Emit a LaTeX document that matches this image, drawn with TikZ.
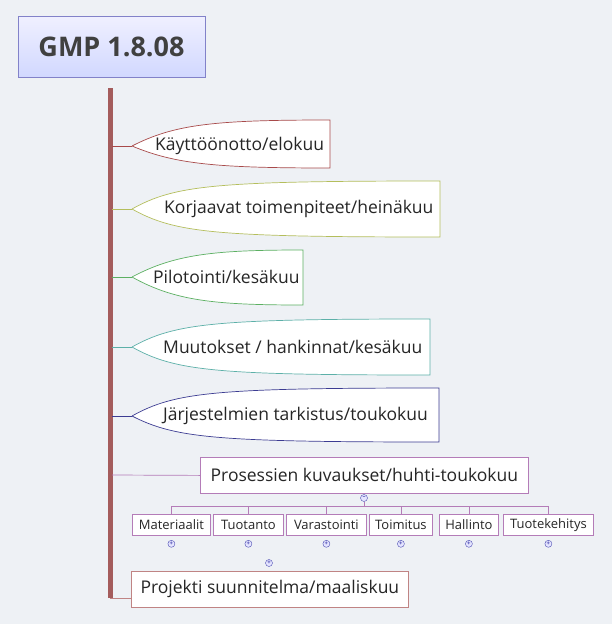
\documentclass[tikz,border=0pt]{standalone}
\usepackage{fontspec}
\setmainfont{Open Sans}
\begin{document}
\begin{tikzpicture}[x=1pt,y=-1pt,
  lbl/.style={font=\fontsize{17.5}{20}\selectfont, text=black!85, anchor=west, inner sep=0},
  sub/.style={draw=c6, fill=white, line width=0.8pt, font=\fontsize{13}{15}\selectfont, text=black!85, inner sep=0, minimum height=21pt, anchor=north west},
  tog/.style={circle, draw=blue!40!gray, fill=blue!10, line width=0.4pt, minimum size=7pt, inner sep=0, font=\fontsize{6}{6}\selectfont\bfseries, text=blue!40!gray},
  br/.style={line width=0.7pt}]
\definecolor{bg}{HTML}{EEF1F5}
\definecolor{trunk}{HTML}{A45C5C}
\definecolor{c1}{HTML}{A84A4A}
\definecolor{c2}{HTML}{B4BE5C}
\definecolor{c3}{HTML}{5CB062}
\definecolor{c4}{HTML}{5CB0A8}
\definecolor{c5}{HTML}{3C3C92}
\definecolor{c6}{HTML}{B47CB8}
\definecolor{c7}{HTML}{C08484}
\fill[bg] (0,0) rectangle (612,624);
\useasboundingbox (0,0) rectangle (612,624);
% title
\node[draw=gray!60!blue!70, line width=0.8pt, top color=blue!6, bottom color=cyan!15!blue!18, minimum width=187pt, minimum height=61pt, font=\fontsize{27}{30}\selectfont\bfseries, text=black!75, inner sep=0] (t) at (111.5,46.5) {GMP 1.8.08};
\coordinate (tt) at (110,88);
\coordinate (tb) at (110,598);
\draw[trunk, line width=5pt] (tt) -- (tb);
% fish branches
\foreach \n/\cy/\top/\bot/\r/\col/\txt/\tx in {
 b1/146/120/168/330/c1/{Käyttöönotto/elokuu}/155,
 b2/209/181/237/440/c2/{Korjaavat toimenpiteet/heinäkuu}/164,
 b3/277/250/305/303/c3/{Pilotointi/kesäkuu}/153,
 b4/347/319/375/430/c4/{Muutokset / hankinnat/kesäkuu}/163,
 b5/416/388/442/439/c5/{Järjestelmien tarkistus/toukokuu}/163}{
  \coordinate (\n p) at (132,\cy);
  \coordinate (\n j) at (112,\cy);
  \fill[white] (\n p) .. controls (175,\top+4) and (215,\top) .. (\r,\top) -- (\r,\bot) .. controls (215,\bot) and (175,\bot-4) .. (\n p);
  \draw[\col, br] (\n p) .. controls (175,\top+4) and (215,\top) .. (\r,\top) -- (\r,\bot) .. controls (215,\bot) and (175,\bot-4) .. (\n p);
  \draw[\col, br] (\n j) -- (\n p);
  \node[lbl] (\n t) at (\tx,\cy) {\txt};
}
% processes
\node[draw=c6, fill=white, line width=0.8pt, anchor=north west, minimum width=328pt, minimum height=36pt, inner sep=0, font=\fontsize{17.5}{20}\selectfont, text=black!85] (p) at (200,457) {Prosessien kuvaukset/huhti-toukokuu};
\coordinate (pj) at (112,475);
\draw[c6, br] (pj) -- (p.west);
\node[sub, minimum width=78pt] (s1) at (132,514) {Materiaalit};
\node[sub, minimum width=70pt] (s2) at (213,514) {Tuotanto};
\node[sub, minimum width=80pt] (s3) at (286,514) {Varastointi};
\node[sub, minimum width=63pt] (s4) at (369,514) {Toimitus};
\node[sub, minimum width=59pt] (s5) at (439,514) {Hallinto};
\node[sub, minimum width=90pt] (s6) at (503,514) {Tuotekehitys};
\coordinate (bar) at (0,506);
\draw[c6, br] (s1.north |- bar) -- (s6.north |- bar);
\foreach \s in {s1,s2,s3,s4,s5,s6}{
  \draw[c6, br] (\s.north |- bar) -- (\s.north);
  \node[tog] (\s p) at ([yshift=-8pt]\s.south) {+};
}
\node[tog] (pm) at (364,498) {--};
\draw[c6, br] (pm) -- (pm |- bar);
\node[tog] (qp) at (269,563) {+};
% projekti
\node[draw=c7, fill=white, line width=0.8pt, anchor=north west, minimum width=277pt, minimum height=36pt, inner sep=0, font=\fontsize{17.5}{20}\selectfont, text=black!85] (q) at (131,571) {Projekti suunnitelma/maaliskuu};
\draw[c7, br] (tb) -- (q.west |- tb);
\end{tikzpicture}
\end{document}
